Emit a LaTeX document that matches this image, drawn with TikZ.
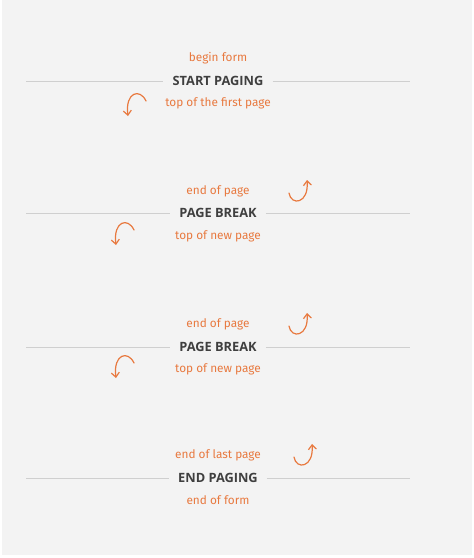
\documentclass[tikz,border=0pt]{standalone}
\usepackage{fontspec}
\usepackage{tikz}
\usetikzlibrary{arrows.meta}
\newfontfamily\handfont{Fira Sans}
\newfontfamily\markfont{Open Sans}
\definecolor{pagebg}{HTML}{F3F3F3}
\definecolor{rulegray}{HTML}{CFCFCF}
\definecolor{markgray}{HTML}{3F3F3F}
\definecolor{noteorange}{HTML}{E8793F}
\tikzset{
  pagemark/.style={fill=pagebg,inner xsep=9pt,inner ysep=3pt,text=markgray,font=\markfont\bfseries\fontsize{12.8}{14}\selectfont},
  note/.style={text=noteorange,font=\handfont\fontsize{11.8}{13}\selectfont},
  hook/.style={noteorange,line width=1.2pt,line cap=round,-{Straight Barb[length=4.5pt,width=8pt]}}
}
% hooked arrows, #1 = start of the curve
\def\DownHook#1{\draw [hook] (#1) .. controls +(-6,-13) and +(-3,-24) .. +(-18,15);}
\def\UpHook#1{\draw [hook] (#1) .. controls +(2,13) and +(2,24) .. +(18,-13);}

\begin{document}
\begin{tikzpicture}[x=1pt,y=-1pt]
  \useasboundingbox (0,0) rectangle (474,558);
  \fill[white] (0,0) rectangle (474,558);
  \fill[pagebg] (2,0) rectangle (472,555);
  \foreach \y/\n in {81/a,213/b,347/c,478/d} {
    \coordinate (l\n) at (26,\y);
    \coordinate (r\n) at (410,\y);
  }
% start paging
  \node[pagemark] (start) at (218,81) {START PAGING};
  \draw[rulegray] (la) -- (start.west) (start.east) -- (ra);
  \node[note] (beginform) at (218,58) {begin form};
  \node[note] (firsttop) at (218,103) {top of the first page};
  \DownHook{146,101}
% first page break
  \node[pagemark] (break1) at (218,213) {PAGE BREAK};
  \draw[rulegray] (lb) -- (break1.west) (break1.east) -- (rb);
  \node[note] (pageend1) at (218,191) {end of page};
  \node[note] (newtop1) at (218,236) {top of new page};
  \UpHook{289,193}
  \DownHook{134,230}
% second page break
  \node[pagemark] (break2) at (218,347) {PAGE BREAK};
  \draw[rulegray] (lc) -- (break2.west) (break2.east) -- (rc);
  \node[note] (pageend2) at (218,324) {end of page};
  \node[note] (newtop2) at (218,369) {top of new page};
  \UpHook{289,326}
  \DownHook{134,363}
% end paging
  \node[pagemark] (stop) at (218,478) {END PAGING};
  \draw[rulegray] (ld) -- (stop.west) (stop.east) -- (rd);
  \node[note] (lastend) at (218,455) {end of last page};
  \node[note] (formend) at (218,500) {end of form};
  \UpHook{294,457}
\end{tikzpicture}
\end{document}
